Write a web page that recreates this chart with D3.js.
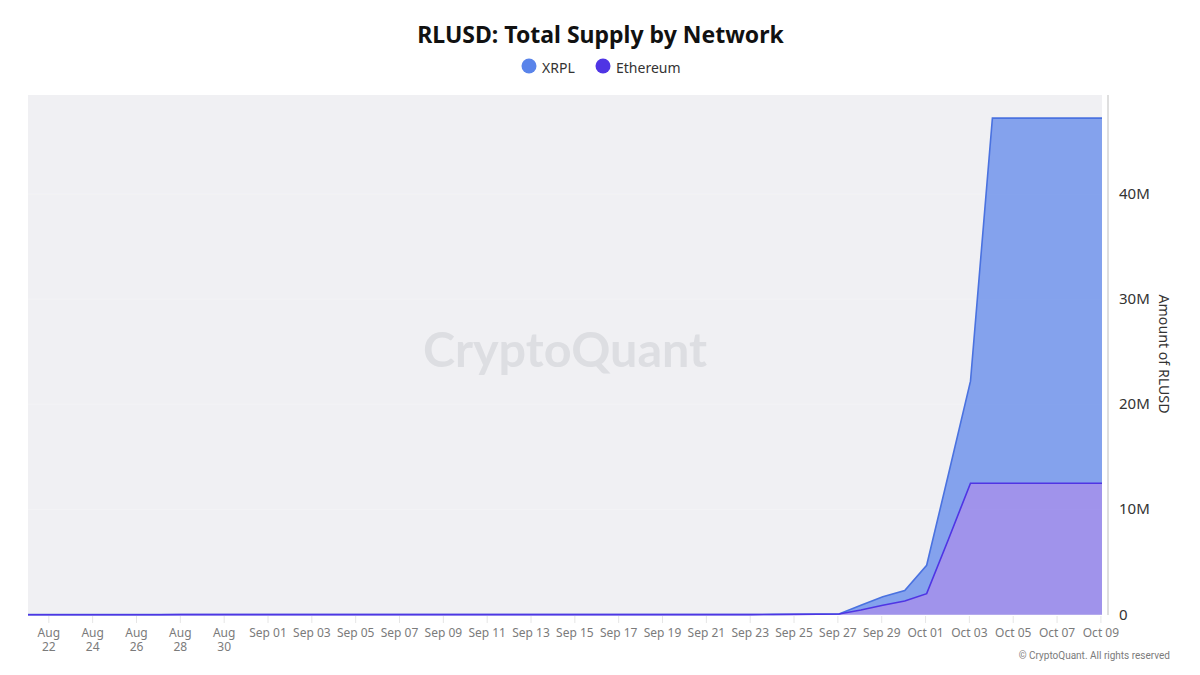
<!DOCTYPE html>
<html>
<head>
<meta charset="utf-8">
<title>RLUSD: Total Supply by Network</title>
<script src="https://cdn.jsdelivr.net/npm/d3@7"></script>
<style>
    html, body { margin: 0; padding: 0; background: #fff; }
    svg { display: block; font-family: "Noto Sans", sans-serif; }
</style>
</head>
<body>
<div id="chart"></div>
<script>
var dates = [
    "2025-08-21", "2025-08-22", "2025-08-23", "2025-08-24", "2025-08-25", "2025-08-26", "2025-08-27",
    "2025-08-28", "2025-08-29", "2025-08-30", "2025-08-31", "2025-09-01", "2025-09-02", "2025-09-03",
    "2025-09-04", "2025-09-05", "2025-09-06", "2025-09-07", "2025-09-08", "2025-09-09", "2025-09-10",
    "2025-09-11", "2025-09-12", "2025-09-13", "2025-09-14", "2025-09-15", "2025-09-16", "2025-09-17",
    "2025-09-18", "2025-09-19", "2025-09-20", "2025-09-21", "2025-09-22", "2025-09-23", "2025-09-24",
    "2025-09-25", "2025-09-26", "2025-09-27", "2025-09-28", "2025-09-29", "2025-09-30", "2025-10-01",
    "2025-10-02", "2025-10-03", "2025-10-04", "2025-10-05", "2025-10-06", "2025-10-07", "2025-10-08",
    "2025-10-09"
];

// million RLUSD. Stacked: XRPL sits on top of Ethereum
var ethereum = [
    0, 0, 0, 0, 0, 0, 0,
    0.01, 0.01, 0.01, 0.01, 0.01, 0.01, 0.01,
    0.01, 0.01, 0.01, 0.01, 0.01, 0.01, 0.01,
    0.01, 0.01, 0.01, 0.01, 0.01, 0.01, 0.01,
    0.01, 0.01, 0.01, 0.01, 0.01, 0.01, 0.02,
    0.03, 0.04, 0.06, 0.45, 0.9, 1.3, 2.0,
    7.2, 12.5, 12.5, 12.5, 12.5, 12.5, 12.5,
    12.5
];
var xrpl = [
    0.01, 0.01, 0.01, 0.01, 0.01, 0.01, 0.01,
    0.01, 0.01, 0.01, 0.01, 0.01, 0.01, 0.01,
    0.01, 0.01, 0.01, 0.01, 0.01, 0.01, 0.01,
    0.01, 0.01, 0.01, 0.01, 0.01, 0.01, 0.01,
    0.01, 0.01, 0.01, 0.01, 0.01, 0.01, 0.01,
    0.01, 0.01, 0.01, 0.45, 0.8, 1.0, 2.7,
    6.2, 9.7, 34.7, 34.7, 34.7, 34.7, 34.7,
    34.7
];

var tickDates = [
    "2025-08-22", "2025-08-24", "2025-08-26", "2025-08-28", "2025-08-30", "2025-09-01", "2025-09-03",
    "2025-09-05", "2025-09-07", "2025-09-09", "2025-09-11", "2025-09-13", "2025-09-15", "2025-09-17",
    "2025-09-19", "2025-09-21", "2025-09-23", "2025-09-25", "2025-09-27", "2025-09-29", "2025-10-01",
    "2025-10-03", "2025-10-05", "2025-10-07", "2025-10-09"
];
var yTicks = [0, 10, 20, 30, 40];
var seriesNames = ["XRPL", "Ethereum"];
var seriesColors = ["#5a84ea", "#4f35e4"];

var width = 1200, height = 675;
var plot = { left: 28, right: 1102, top: 95, bottom: 615 };
var tickShift = -1.6;   // labels sit slightly left of the daily points

var parseDay = d3.utcParse("%Y-%m-%d");
var days = dates.map(parseDay);

var svg = d3.select("#chart").append("svg")
    .attr("width", width)
    .attr("height", height);

var x = d3.scaleUtc()
    .domain([days[0], days[days.length - 1]])
    .range([plot.left, plot.right]);

var y = d3.scaleLinear()
    .domain([0, 49.4])
    .range([614.7, plot.top]);

// background + grid
svg.append("rect")
    .attr("x", plot.left)
    .attr("y", plot.top)
    .attr("width", plot.right - plot.left)
    .attr("height", plot.bottom - plot.top)
    .attr("fill", "#f0f0f3");

svg.append("g").selectAll("line")
    .data(yTicks.slice(1))
    .enter().append("line")
    .attr("x1", plot.left)
    .attr("x2", plot.right)
    .attr("y1", function (d) { return y(d); })
    .attr("y2", function (d) { return y(d); })
    .attr("stroke", "#f3f3f5");

svg.append("text")
    .attr("x", 565)
    .attr("y", 367)
    .attr("text-anchor", "middle")
    .attr("fill", "#dddee2")
    .style("font-family", "Lato, sans-serif")
    .style("font-size", "48.5px")
    .style("font-weight", 700)
    .text("CryptoQuant");

// stacked series
var rows = days.map(function (d, i) {
    return { day: d, XRPL: xrpl[i], Ethereum: ethereum[i] };
});
var stacked = d3.stack().keys(["Ethereum", "XRPL"])(rows);

var area = d3.area()
    .x(function (d) { return x(d.data.day); })
    .y0(function (d) { return y(d[0]); })
    .y1(function (d) { return y(d[1]); });

var topLine = d3.line()
    .x(function (d) { return x(d.data.day); })
    .y(function (d) { return y(d[1]); });

var fillOpacity = { XRPL: 0.72, Ethereum: 0.5 };

svg.append("g").selectAll("path")
    .data(stacked)
    .enter().append("path")
    .attr("d", area)
    .attr("fill", function (s) { return seriesColors[seriesNames.indexOf(s.key)]; })
    .attr("fill-opacity", function (s) { return fillOpacity[s.key]; });

// XRPL line first, Ethereum on top of it
svg.append("g").selectAll("path")
    .data(stacked.slice().reverse())
    .enter().append("path")
    .attr("d", topLine)
    .attr("fill", "none")
    .attr("stroke", function (s) { return s.key === "XRPL" ? "#4a72e0" : "#4f35e4"; })
    .attr("stroke-width", 1.6);

// x axis
var xAxis = d3.axisBottom(x)
    .tickValues(tickDates.map(parseDay))
    .tickSize(7)
    .tickPadding(5)
    .tickFormat(d3.utcFormat("%b %d"));

var xGroup = svg.append("g")
    .attr("transform", "translate(" + tickShift + "," + (plot.bottom + 1) + ")")
    .call(xAxis);

xGroup.attr("font-family", null);
xGroup.select(".domain").remove();
xGroup.selectAll(".tick line").attr("stroke", "#e6e6e6");
xGroup.selectAll(".tick text")
    .attr("fill", "#7b7b7b")
    .style("font-size", "12px")
    .each(function (d) {
        // August labels are wrapped on two lines in the original
        if (d.getUTCMonth() !== 7) return;
        var parts = d3.select(this).text().split(" ");
        var label = d3.select(this).text(null);
        label.append("tspan").attr("x", 0).attr("dy", "0.71em").text(parts[0]);
        label.append("tspan").attr("x", 0).attr("dy", "14.7px").text(parts[1]);
    });

// y axis
var yAxis = d3.axisRight(y)
    .tickValues(yTicks)
    .tickSize(0)
    .tickPadding(11)
    .tickFormat(function (d) { return d === 0 ? "0" : d + "M"; });

var yGroup = svg.append("g")
    .attr("transform", "translate(1108,-0.5)")
    .call(yAxis);

yGroup.attr("font-family", null);
yGroup.select(".domain").remove();
yGroup.selectAll(".tick text")
    .attr("fill", "#333")
    .style("font-size", "15px");

svg.append("line")
    .attr("x1", 1108)
    .attr("x2", 1108)
    .attr("y1", plot.top)
    .attr("y2", plot.bottom)
    .attr("stroke", "#d4d4d4")
    .attr("stroke-width", 1.5);

svg.append("text")
    .attr("transform", "translate(1159,354) rotate(90)")
    .attr("text-anchor", "middle")
    .attr("fill", "#333")
    .style("font-size", "14.2px")
    .text("Amount of RLUSD");

// title + legend
svg.append("text")
    .attr("x", 600.5)
    .attr("y", 43)
    .attr("text-anchor", "middle")
    .attr("fill", "#111")
    .style("font-size", "23px")
    .style("font-weight", 700)
    .text("RLUSD: Total Supply by Network");

var legendX = [529, 603];
var legend = svg.append("g").selectAll("g")
    .data(seriesNames)
    .enter().append("g")
    .attr("transform", function (d, i) { return "translate(" + legendX[i] + ",66)"; });

legend.append("circle")
    .attr("r", 7.5)
    .attr("fill", function (d, i) { return seriesColors[i]; });

legend.append("text")
    .attr("x", 13)
    .attr("y", 7)
    .attr("fill", "#333")
    .style("font-size", "14px")
    .text(function (d) { return d; });

svg.append("text")
    .attr("x", 1170)
    .attr("y", 659)
    .attr("text-anchor", "end")
    .attr("fill", "#7b7b7b")
    .style("font-family", "Roboto, sans-serif")
    .style("font-size", "10px")
    .text("© CryptoQuant. All rights reserved");
</script>
</body>
</html>
